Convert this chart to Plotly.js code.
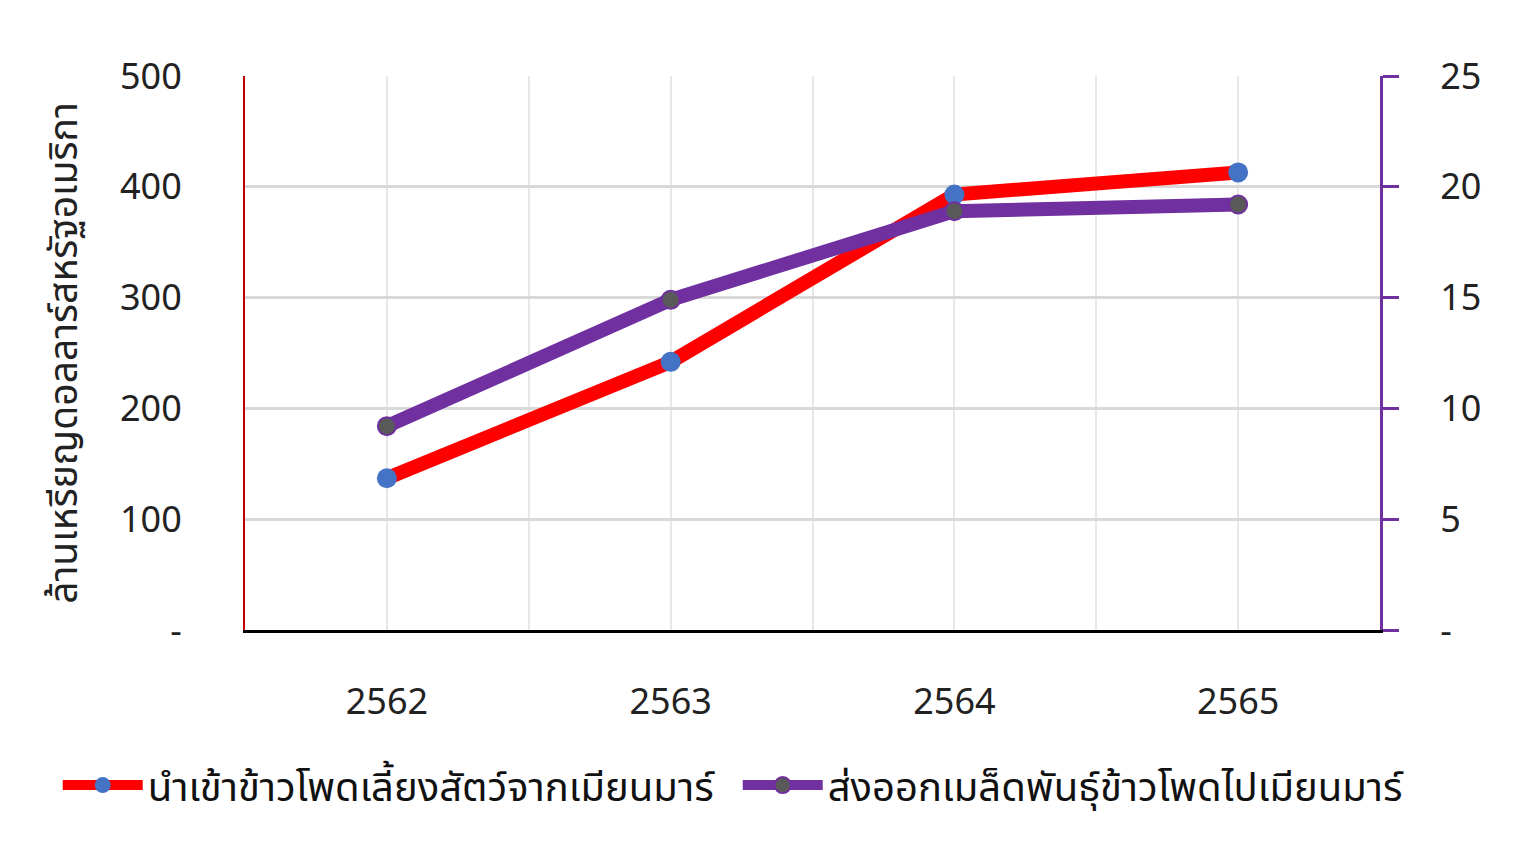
<!DOCTYPE html>
<html>
<head>
<meta charset="utf-8">
<script src="https://cdn.plot.ly/plotly-3.0.1.min.js"></script>
<style>html,body{margin:0;padding:0;background:#fff;}#chart{width:1536px;height:864px;}</style>
</head>
<body>
<div id="chart"></div>
<script>
const years = ['2562', '2563', '2564', '2565'];
const importMaize = [137, 242, 393, 413];      // left axis, million USD
const exportSeed = [9.2, 14.9, 18.9, 19.2];    // right axis, million USD
const seriesNames = ['นำเข้าข้าวโพดเลี้ยงสัตว์จากเมียนมาร์', 'ส่งออกเมล็ดพันธุ์ข้าวโพดไปเมียนมาร์'];
const leftTicks = [0, 100, 200, 300, 400, 500];
const leftTickText = ['-', '100', '200', '300', '400', '500'];
const rightTicks = [0, 5, 10, 15, 20, 25];
const rightTickText = ['-', '5', '10', '15', '20', '25'];
const yTitle = 'ล้านเหรียญดอลลาร์สหรัฐอเมริกา';

const idx = years.map((y, i) => i);
const FONT = '"Noto Sans Thai", "Noto Sans Thai Looped", "Noto Sans", "DejaVu Sans", sans-serif';

const traces = [
  {
    x: idx, y: importMaize, name: seriesNames[0], type: 'scatter', mode: 'lines+markers',
    line: {color: '#ff0000', width: 14},
    marker: {color: '#4472c4', size: 20, line: {width: 0}},
    yaxis: 'y'
  },
  {
    x: idx, y: exportSeed, name: seriesNames[1], type: 'scatter', mode: 'lines+markers',
    line: {color: '#7030a0', width: 14},
    marker: {color: '#595959', size: 18, line: {color: '#7030a0', width: 2}},
    yaxis: 'y2'
  }
];

const layout = {
  width: 1536, height: 864,
  paper_bgcolor: '#ffffff', plot_bgcolor: '#ffffff',
  font: {family: FONT, size: 36, color: '#222'},
  margin: {l: 245, r: 156, t: 76, b: 234},
  showlegend: true,
  legend: {orientation: 'h', x: -0.165, xanchor: 'left', y: -0.28, yanchor: 'middle',
           font: {size: 40, color: '#111'}, itemwidth: 80,
           entrywidth: 585, entrywidthmode: 'pixels', tracegroupgap: 0},
  xaxis: {
    type: 'linear', range: [-0.5, 3.5],
    tickmode: 'array', tickvals: idx, ticktext: years,
    showgrid: true, gridcolor: '#e8e8e8', gridwidth: 2,
    minor: {dtick: 0.5, tick0: 0.5, showgrid: true, gridcolor: '#e8e8e8', gridwidth: 2},
    showline: true, linecolor: '#000', linewidth: 3,
    ticks: '', ticklabelstandoff: 38,
    tickfont: {size: 36, color: '#222'},
    zeroline: false, fixedrange: true
  },
  yaxis: {
    range: [0, 500], tickmode: 'array', tickvals: leftTicks, ticktext: leftTickText,
    showgrid: true, gridcolor: '#d9d9d9', gridwidth: 3,
    showline: true, linecolor: '#c00000', linewidth: 2,
    ticks: '', ticklabelstandoff: 54,
    tickfont: {size: 36, color: '#222'},
    zeroline: false,
    title: {text: yTitle, font: {size: 39, color: '#222'}, standoff: 30}
  },
  yaxis2: {
    range: [0, 25], overlaying: 'y', side: 'right',
    tickmode: 'array', tickvals: rightTicks, ticktext: rightTickText,
    showgrid: false,
    showline: true, linecolor: '#7030a0', linewidth: 3,
    ticks: 'outside', ticklen: 16, tickwidth: 3, tickcolor: '#7030a0',
    ticklabelstandoff: 34,
    tickfont: {size: 36, color: '#222'},
    zeroline: false
  }
};

Plotly.newPlot('chart', traces, layout, {displayModeBar: false, staticPlot: true});
</script>
</body>
</html>
